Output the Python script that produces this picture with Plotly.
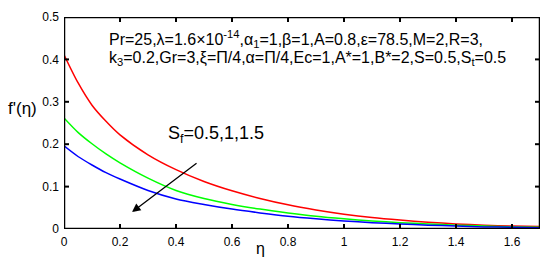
import plotly.graph_objects as go

eta = [0, 0.05, 0.1, 0.15, 0.2, 0.3, 0.4, 0.5, 0.6, 0.7, 0.8, 0.9, 1.0, 1.1, 1.2, 1.3, 1.4, 1.5, 1.6, 1.7]
f_sf05 = [0.411, 0.345, 0.292, 0.254, 0.222, 0.175, 0.140, 0.112, 0.090, 0.072, 0.057, 0.045, 0.035, 0.027, 0.021, 0.016, 0.012, 0.009, 0.007, 0.006]
f_sf10 = [0.262, 0.228, 0.201, 0.177, 0.156, 0.120, 0.091, 0.072, 0.058, 0.047, 0.038, 0.030, 0.024, 0.019, 0.015, 0.012, 0.009, 0.007, 0.005, 0.004]
f_sf15 = [0.196, 0.171, 0.151, 0.133, 0.118, 0.091, 0.071, 0.058, 0.047, 0.038, 0.030, 0.024, 0.019, 0.015, 0.012, 0.009, 0.007, 0.005, 0.004, 0.003]
series_names = ["S<sub>f</sub>=0.5", "S<sub>f</sub>=1", "S<sub>f</sub>=1.5"]
series_colors = ["#ff0000", "#00ff00", "#0000ff"]
x_ticks = [0, 0.2, 0.4, 0.6, 0.8, 1, 1.2, 1.4, 1.6]
y_ticks = [0, 0.1, 0.2, 0.3, 0.4, 0.5]
x_range = [0, 1.7]
y_range = [0, 0.5]

FONT = "Arial"
PLOT_W, PLOT_H = 476, 214   # plot area size in px (550-64-10, 262-15-33)
TICK_PX = 5

fig = go.Figure()
for ys, name, col in zip([f_sf05, f_sf10, f_sf15], series_names, series_colors):
    fig.add_trace(go.Scatter(x=eta, y=ys, mode="lines", name=name,
                             line=dict(color=col, width=1.5, shape="spline", smoothing=0.8)))

# frame of the axes box, derived from the axis ranges
x0, x1 = x_range
y0, y1 = y_range
fig.add_trace(go.Scatter(x=[x0, x1, x1, x0, x0], y=[y0, y0, y1, y1, y0], mode="lines",
                         line=dict(color="black", width=2.5), cliponaxis=False,
                         hoverinfo="skip", showlegend=False))

# inward ticks on all four sides, derived from the tick lists
ty = (y1 - y0) * TICK_PX / PLOT_H
tx = (x1 - x0) * TICK_PX / PLOT_W
tk_x, tk_y = [], []
for v in x_ticks:
    tk_x += [v, v, None, v, v, None]
    tk_y += [y0, y0 + ty, None, y1, y1 - ty, None]
for v in y_ticks:
    tk_x += [x0, x0 + tx, None, x1, x1 - tx, None]
    tk_y += [v, v, None, v, v, None]
fig.add_trace(go.Scatter(x=tk_x, y=tk_y, mode="lines", line=dict(color="black", width=2),
                         cliponaxis=False, hoverinfo="skip", showlegend=False))

fig.update_layout(
    width=550, height=262,
    margin=dict(l=64, r=10, t=15, b=33),
    showlegend=False,
    paper_bgcolor="white", plot_bgcolor="white",
    font=dict(family=FONT, size=12, color="black"),
    xaxis=dict(range=x_range, tickvals=x_ticks, showgrid=False, zeroline=False,
               showline=False, ticks="", ticklabelstandoff=4),
    yaxis=dict(range=y_range, tickvals=y_ticks, showgrid=False, zeroline=False,
               showline=False, ticks="", ticklabelstandoff=4),
)

ann = []
ann.append(dict(xref="paper", yref="paper", x=-0.088, y=0.57, xanchor="center", yanchor="middle",
                text="f'(η)", showarrow=False, font=dict(family=FONT, size=17, color="black")))
ann.append(dict(xref="paper", yref="paper", x=0.412, y=-0.093, xanchor="center", yanchor="middle",
                text="η", showarrow=False, font=dict(family=FONT, size=16, color="black")))
ann.append(dict(xref="x", yref="y", x=0.154, y=0.449, xanchor="left",
                text="Pr=25,λ=1.6×10<sup>-14</sup>,α<sub>1</sub>=1,β=1,A=0.8,ε=78.5,M=2,R=3,",
                showarrow=False, font=dict(family=FONT, size=16, color="black")))
ann.append(dict(xref="x", yref="y", x=0.154, y=0.402, xanchor="left",
                text="k<sub>3</sub>=0.2,Gr=3,ξ=Π/4,α=Π/4,Ec=1,A*=1,B*=2,S=0.5,S<sub>t</sub>=0.5",
                showarrow=False, font=dict(family=FONT, size=16, color="black")))
ann.append(dict(xref="x", yref="y", x=0.366, y=0.222, xanchor="left",
                text="S<sub>f</sub>=0.5,1,1.5", showarrow=False,
                font=dict(family=FONT, size=18, color="black")))
ann.append(dict(xref="x", yref="y", x=0.243, y=0.040, ax=66, ay=-50,
                text="", showarrow=True, arrowhead=2, arrowsize=1.3, arrowwidth=1.3, arrowcolor="black"))
fig.update_layout(annotations=ann)

fig.write_html("out.html")
